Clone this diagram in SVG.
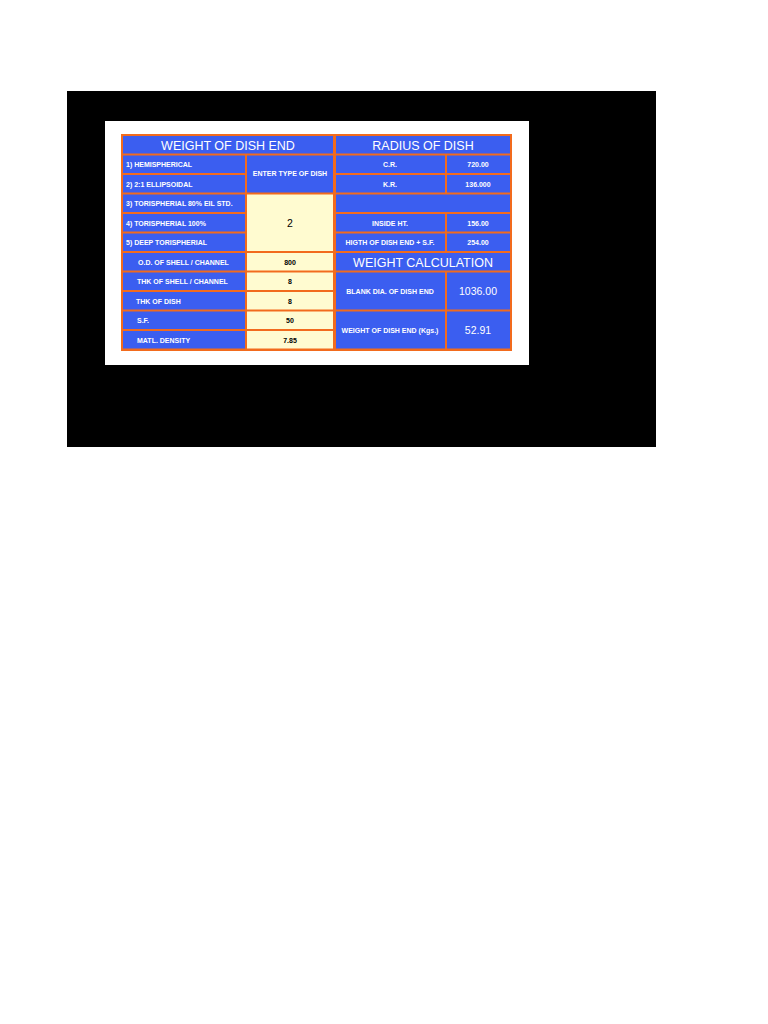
<svg xmlns="http://www.w3.org/2000/svg" width="768" height="1024" viewBox="0 0 768 1024">
<style>
.b{fill:#3b5ef0}.y{fill:#fffbd0}
text{font-family:"Liberation Sans",Arial,sans-serif;fill:#fff;font-weight:bold;font-size:7px}
.h{font-weight:normal;font-size:12.5px}
.v{font-weight:normal;font-size:10.5px}
.k{fill:#000}
</style>
<rect width="768" height="1024" fill="#fff"/>
<rect x="67" y="91" width="589" height="356" fill="#000"/>
<rect x="105" y="121" width="424" height="244" fill="#fff"/>
<rect x="121" y="134" width="391" height="217" fill="#f26b1d"/>
<g id="cells">
<rect class="b" x="123" y="136" width="210" height="17.5"/>
<rect class="b" x="336" y="136" width="174" height="17.5"/>
<rect class="b" x="123" y="155.5" width="122" height="17.5"/>
<rect class="b" x="123" y="175" width="122" height="17.5"/>
<rect class="b" x="123" y="194.5" width="122" height="17.5"/>
<rect class="b" x="123" y="214" width="122" height="17.5"/>
<rect class="b" x="123" y="233.5" width="122" height="17.5"/>
<rect class="b" x="123" y="253" width="122" height="17.5"/>
<rect class="b" x="123" y="272.5" width="122" height="17.5"/>
<rect class="b" x="123" y="292" width="122" height="17.5"/>
<rect class="b" x="123" y="311.5" width="122" height="17.5"/>
<rect class="b" x="123" y="331" width="122" height="17.5"/>
<rect class="b" x="247" y="155.5" width="86" height="37"/>
<rect class="y" x="247" y="194.5" width="86" height="56.5"/>
<rect class="y" x="247" y="253" width="86" height="17.5"/>
<rect class="y" x="247" y="272.5" width="86" height="17.5"/>
<rect class="y" x="247" y="292" width="86" height="17.5"/>
<rect class="y" x="247" y="311.5" width="86" height="17.5"/>
<rect class="y" x="247" y="331" width="86" height="17.5"/>
<rect class="b" x="336" y="155.5" width="109" height="17.5"/>
<rect class="b" x="447" y="155.5" width="63" height="17.5"/>
<rect class="b" x="336" y="175" width="109" height="17.5"/>
<rect class="b" x="447" y="175" width="63" height="17.5"/>
<rect class="b" x="336" y="194.5" width="174" height="17.5"/>
<rect class="b" x="336" y="214" width="109" height="17.5"/>
<rect class="b" x="447" y="214" width="63" height="17.5"/>
<rect class="b" x="336" y="233.5" width="109" height="17.5"/>
<rect class="b" x="447" y="233.5" width="63" height="17.5"/>
<rect class="b" x="336" y="253" width="174" height="17.5"/>
<rect class="b" x="336" y="272.5" width="109" height="37"/>
<rect class="b" x="447" y="272.5" width="63" height="37"/>
<rect class="b" x="336" y="311.5" width="109" height="37"/>
<rect class="b" x="447" y="311.5" width="63" height="37"/>
</g>
<g id="labels">
<text class="h" x="228" y="149.5" text-anchor="middle">WEIGHT OF DISH END</text>
<text class="h" x="423" y="149.5" text-anchor="middle">RADIUS OF DISH</text>
<text x="126" y="167">1)  HEMISPHERICAL</text>
<text x="126" y="187">2)  2:1 ELLIPSOIDAL</text>
<text x="126" y="206">3)  TORISPHERIAL 80%  EIL STD.</text>
<text x="126" y="226">4)  TORISPHERIAL 100%</text>
<text x="126" y="245">5)  DEEP TORISPHERIAL</text>
<text x="138" y="265">O.D. OF SHELL / CHANNEL</text>
<text x="137" y="284">THK OF SHELL / CHANNEL</text>
<text x="136" y="304">THK OF DISH</text>
<text x="137" y="323">S.F.</text>
<text x="137" y="343">MATL. DENSITY</text>
<text x="290" y="176" text-anchor="middle">ENTER TYPE OF DISH</text>
<text class="v k" x="290" y="227" text-anchor="middle">2</text>
<text class="k" x="290" y="265" text-anchor="middle">800</text>
<text class="k" x="290" y="284" text-anchor="middle">8</text>
<text class="k" x="290" y="304" text-anchor="middle">8</text>
<text class="k" x="290" y="323" text-anchor="middle">50</text>
<text class="k" x="290" y="343" text-anchor="middle">7.85</text>
<text x="390" y="167" text-anchor="middle">C.R.</text>
<text x="478" y="167" text-anchor="middle">720.00</text>
<text x="390" y="187" text-anchor="middle">K.R.</text>
<text x="478" y="187" text-anchor="middle">136.000</text>
<text x="390" y="226" text-anchor="middle">INSIDE HT.</text>
<text x="478" y="226" text-anchor="middle">156.00</text>
<text x="390" y="245" text-anchor="middle">HIGTH OF DISH END +  S.F.</text>
<text x="478" y="245" text-anchor="middle">254.00</text>
<text class="h" x="423" y="267" text-anchor="middle">WEIGHT  CALCULATION</text>
<text x="390" y="294" text-anchor="middle">BLANK DIA. OF DISH END</text>
<text class="v" x="478" y="295" text-anchor="middle">1036.00</text>
<text x="390" y="333" text-anchor="middle">WEIGHT OF DISH END (Kgs.)</text>
<text class="v" x="478" y="334" text-anchor="middle">52.91</text>
</g>
</svg>
